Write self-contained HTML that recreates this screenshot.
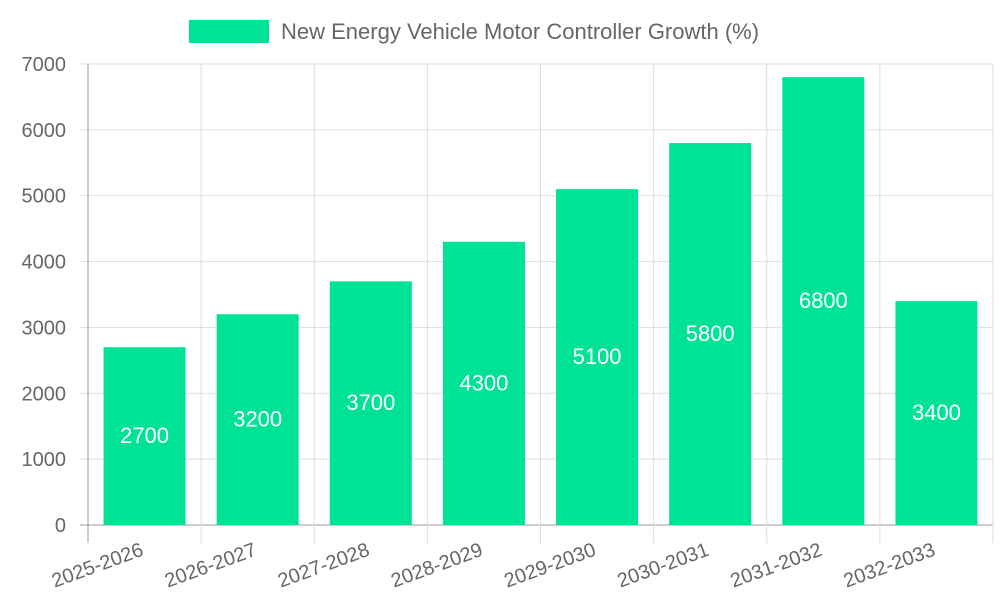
<!DOCTYPE html>
<html><head><meta charset="utf-8"><style>
body{margin:0;background:#fff;font-family:"Liberation Sans",sans-serif;}
svg{display:block}
</style></head><body>
<svg id="chart" width="1000" height="600" xmlns="http://www.w3.org/2000/svg">
<g>
<rect x="189" y="20" width="80" height="23" fill="#00e396"/>
<text x="281" y="39" font-size="22" fill="#666">New Energy Vehicle Motor Controller Growth (%)</text>
</g>
<g id="grid"></g><g id="bars"></g><g id="labels"></g>
</svg>
<script>
const categories=["2025-2026","2026-2027","2027-2028","2028-2029","2029-2030","2030-2031","2031-2032","2032-2033"];
const values=[2700,3200,3700,4300,5100,5800,6800,3400];
const yTicks=[0,1000,2000,3000,4000,5000,6000,7000];
const NS="http://www.w3.org/2000/svg";
const L=88,R=993,T=64,B=525,yMax=7000;
const bw=(R-L)/categories.length;
const y=v=>B-(v/yMax)*(B-T);
const x=i=>L+bw*i;
function mk(p,tag,a,txt){const e=document.createElementNS(NS,tag);for(const k in a)e.setAttribute(k,a[k]);if(txt!=null)e.textContent=txt;document.getElementById(p).appendChild(e);return e;}
yTicks.forEach(t=>{
const g=mk('grid','line',{x1:L-8,x2:R,y1:y(t),y2:y(t),stroke:t===0?'#999':'#ddd','stroke-width':1});


const tx=mk('labels','text',{x:L-22,y:y(t)+7,'text-anchor':'end','font-size':20,fill:'#666'},t);


});
for(let i=0;i<=categories.length;i++){
const g=mk('grid','line',{x1:x(i),x2:x(i),y1:T,y2:B+18,stroke:i===0?'#999':'#ddd','stroke-width':1});


}
categories.forEach((c,i)=>{
const cx=x(i)+bw/2,w=82;
const r=mk('bars','rect',{x:cx-w/2,y:y(values[i]),width:w,height:B-y(values[i]),fill:'#00e396'});


const v=mk('labels','text',{x:cx,y:(y(values[i])+B)/2+7,'text-anchor':'middle','font-size':22,fill:'#fff'},values[i]);


const t=mk('labels','text',{x:cx,y:B+30,'text-anchor':'end','font-size':20,fill:'#666',transform:`rotate(-20 ${cx} ${B+30})`},c);


});
</script>
</body></html>
